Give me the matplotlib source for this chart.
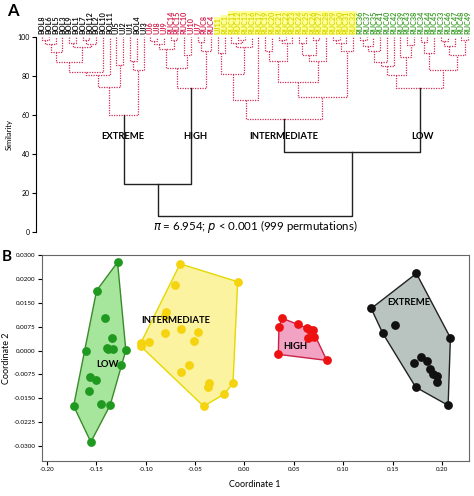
import matplotlib
matplotlib.use('Agg')
import matplotlib.pyplot as plt
import numpy as np

plt.rcParams['font.family'] = ['Lato', 'DejaVu Sans']

# ---- panel A data: leaf labels per group (left to right) ----
extreme_labels = ['BOL8', 'BOL6', 'BOL5', 'BOL3', 'BOL9', 'BOL1', 'BOL7', 'BOL12',
                  'BOL2', 'BOL10', 'BOL11', 'UJ5', 'UJ2', 'UJ1', 'BOL4', 'UJ3']
high_labels = ['UJ6', 'UJ8', 'UJ9', 'RUC14', 'RUC15', 'RUC10', 'UJ10', 'UJ7', 'RUC8', 'RUC4']
intermediate_labels = ['UJ11', 'RUC1', 'RUC11', 'RUC12', 'RUC13', 'RUC16', 'RUC17',
                       'RUC19', 'RUC20', 'RUC21', 'RUC22', 'RUC23', 'RUC24', 'RUC25',
                       'RUC26', 'RUC27', 'RUC28', 'RUC29', 'RUC30', 'RUC31', 'RUC32']
low_labels = ['RUC36', 'RUC37', 'RUC35', 'RUC41', 'RUC40', 'RUC42', 'RUC39', 'RUC43',
              'RUC38', 'RUC34', 'RUC44', 'RUC45', 'RUC33', 'RUC46', 'RUC47', 'RUC48', 'RUC49']

# merges as (similarity, left, right); ints are leaf positions
extreme_tree = (60, (74.2, (80.5, (82.2, (87.3, (92.5, (96.5, (98.5, 0, 1), 2), 3),
                                             (95, (97, 4, 5), (96.5, (98.8, 6, 7), 8))), 9), 10),
                     (85.6, 11, 12)),
                (83, (87.7, 13, 14), 15))
high_tree = (74, (84, (93.7, (96.5, (98, 16, 17), 18), (98.5, 19, 20)), (91, 21, 22)),
             (93, (97.5, 23, 24), 25))
intermediate_tree = (58, (68, (81.3, (92, 26, 27), (95, (97, 28, (98.5, 29, 30)), 31)), 32),
                     (69.4, (77, (88, (93, 33, 34), (97, (98.5, 35, 36), 37)),
                             (88, (91, (97, 38, 39), (98.5, 40, 41)), 42)),
                      (93, (97, (98.5, 43, 44), 45), 46)))
low_tree = (73.7, (80.5, (85, (87.5, (93, (95.5, (98.5, 47, 48), 49), 50), 51), 52),
                   (90, 53, (96, 54, 55))),
            (83, (92, (97.5, 56, 57), 58),
             (91, (95.5, (98, 59, 60), 61), (98.5, 62, 63))))
full_tree = (8.5, (24.5, extreme_tree, high_tree), (41, intermediate_tree, low_tree))
group_names = ['EXTREME', 'HIGH', 'INTERMEDIATE', 'LOW']
group_label_x = [12.0, 22.6, 35.8, 56.2]

# ---- panel B data: PCoA coordinates ----
low_x = [-0.1283, -0.1495, -0.1408, -0.1343, -0.1394, -0.1380, -0.1330, -0.1600, -0.1199,
         -0.1250, -0.1563, -0.1505, -0.1570, -0.1727, -0.1448, -0.1357, -0.1553]
low_y = [0.0277, 0.0188, 0.0102, 0.0040, 0.0008, 0.0006, 0.0004, 0.0000, 0.0001,
         -0.0044, -0.0084, -0.0092, -0.0126, -0.0174, -0.0167, -0.0171, -0.0287]
int_x = [-0.0650, -0.0704, -0.0795, -0.0798, -0.0802, -0.0643, -0.0472, -0.0512, -0.0964,
         -0.1047, -0.1047, -0.0559, -0.0646, -0.0357, -0.0368, -0.0115, -0.0206, -0.0411,
         -0.0068]
int_y = [0.0272, 0.0205, 0.0122, 0.0108, 0.0056, 0.0067, 0.0058, 0.0031, 0.0026,
         0.0024, 0.0013, -0.0044, -0.0067, -0.0102, -0.0115, -0.0103, -0.0137, -0.0175,
         0.0216]
high_x = [0.0384, 0.0350, 0.0542, 0.0633, 0.0690, 0.0646, 0.0707, 0.0343, 0.0834, 0.0660]
high_y = [0.0101, 0.0075, 0.0082, 0.0070, 0.0063, 0.0040, 0.0041, -0.0012, -0.0031, 0.0063]
ext_x = [0.1740, 0.1283, 0.1525, 0.1400, 0.2084, 0.1791, 0.1713, 0.1848, 0.1882, 0.1905,
         0.1946, 0.1953, 0.1733, 0.2061]
ext_y = [0.0242, 0.0132, 0.0080, 0.0054, 0.0040, -0.0021, -0.0040, -0.0033, -0.0058,
         -0.0075, -0.0080, -0.0100, -0.0115, -0.0172]
y_ticks = [0.0300, 0.0225, 0.0150, 0.0075, 0.0, -0.0075, -0.0150, -0.0225, -0.0300]
y_tick_labels = ['0.0300', '0.0200', '0.0150', '0.0075', '0.0000', '-0.0075', '-0.0150',
                 '-0.0225', '-0.0300']
x_ticks = [-0.20, -0.15, -0.10, -0.05, 0.00, 0.05, 0.10, 0.15, 0.20]

fig = plt.figure(figsize=(4.74, 4.96), dpi=100)

# ================= panel A: dendrogram =================
axA = fig.add_axes([0.076, 0.532, 0.92, 0.393])
red_dot = '#d02c58'


def draw_node(node):
    if isinstance(node, int):
        return node, 100.0
    h, a, b = node
    xa, ya = draw_node(a)
    xb, yb = draw_node(b)
    if h < 50:
        axA.plot([xa, xa, xb, xb], [ya, h, h, yb], color='#222222', lw=1.0)
    else:
        axA.plot([xa, xa, xb, xb], [ya, h, h, yb], color=red_dot, lw=0.9,
                 linestyle=(0, (1, 1)))
    return (xa + xb) / 2, h


draw_node(full_tree)

leaf_labels = extreme_labels + high_labels + intermediate_labels + low_labels
leaf_colors = (['#111111'] * len(extreme_labels) + ['#d4204c'] * len(high_labels)
               + ['#d6d600'] * len(intermediate_labels) + ['#3c9e28'] * len(low_labels))
for i, (lab, col) in enumerate(zip(leaf_labels, leaf_colors)):
    kw = {}
    if col == '#d6d600':
        kw['bbox'] = dict(facecolor='#ffff9a', edgecolor='none', pad=0.2)
    axA.text(i, 101.5, lab, rotation=90, ha='center', va='bottom', fontsize=5.2,
             fontweight='bold', color=col, clip_on=False,
             family=['Liberation Sans Narrow', 'Lato'], **kw)

for name, gx in zip(group_names, group_label_x):
    axA.text(gx, 49, name, ha='center', va='center', fontsize=6.8, fontweight='bold')

axA.text(31.5, 3, r'$\pi$ = 6.954; $p$ < 0.001 (999 permutations)', ha='center',
         va='center', fontsize=8.3)

axA.set_xlim(-0.9, 63.6)
axA.set_ylim(0, 100)
axA.set_yticks([0, 20, 40, 60, 80, 100])
axA.set_xticks([])
axA.tick_params(axis='y', labelsize=5, length=3, width=0.8, pad=1.5)
for s in ['top', 'right', 'bottom']:
    axA.spines[s].set_visible(False)
axA.spines['left'].set_linewidth(0.8)
axA.set_ylabel('Similarity', fontsize=5.5, labelpad=3)

# ================= panel B: PCoA =================
axB = fig.add_axes([0.088, 0.071, 0.901, 0.415])


def hull(xs, ys):
    pts = sorted(set(zip(xs, ys)))

    def cross(o, a, b):
        return (a[0] - o[0]) * (b[1] - o[1]) - (a[1] - o[1]) * (b[0] - o[0])
    lower, upper = [], []
    for p in pts:
        while len(lower) >= 2 and cross(lower[-2], lower[-1], p) <= 0:
            lower.pop()
        lower.append(p)
    for p in reversed(pts):
        while len(upper) >= 2 and cross(upper[-2], upper[-1], p) <= 0:
            upper.pop()
        upper.append(p)
    return np.array(lower[:-1] + upper[:-1])


groups = [
    (low_x, low_y, '#a6e69c', '#3a8a2a', '#1f991f', 'LOW', (-0.138, -0.0045)),
    (int_x, int_y, '#fbf3a0', '#e6d800', '#f5d30e', 'INTERMEDIATE', (-0.069, 0.0093)),
    (high_x, high_y, '#f2a3c4', '#cc2048', '#ee1111', 'HIGH', (0.052, 0.0013)),
    (ext_x, ext_y, '#b9c4c1', '#222222', '#111111', 'EXTREME', (0.166, 0.0152)),
]
for xs, ys, fc, ec, pc, name, pos in groups:
    h = hull(xs, ys)
    axB.fill(h[:, 0], h[:, 1], facecolor=fc, edgecolor=ec, lw=1.0, zorder=1)
    axB.scatter(xs, ys, s=40, color=pc, zorder=3, linewidths=0)
    axB.text(pos[0], pos[1], name, ha='center', va='center', fontsize=6.8,
             fontweight='bold', zorder=4)

axB.set_xlim(-0.205, 0.227)
axB.set_ylim(-0.0346, 0.0300)
axB.set_xticks(x_ticks)
axB.set_xticklabels(['%.2f' % v for v in x_ticks])
axB.set_yticks(y_ticks)
axB.set_yticklabels(y_tick_labels)
axB.tick_params(labelsize=4.5, length=3, width=0.8, pad=1.5)
for s in axB.spines.values():
    s.set_color('#666666')
    s.set_linewidth(0.8)
axB.set_xlabel('Coordinate 1', fontsize=6.5, labelpad=6)
axB.set_ylabel('Coordinate 2', fontsize=6.5, labelpad=2)

fig.text(0.014, 0.978, 'A', fontsize=12, fontweight='bold', va='center')
fig.text(0.004, 0.482, 'B', fontsize=11, fontweight='bold', va='center')

fig.savefig('out.png', dpi=100)
